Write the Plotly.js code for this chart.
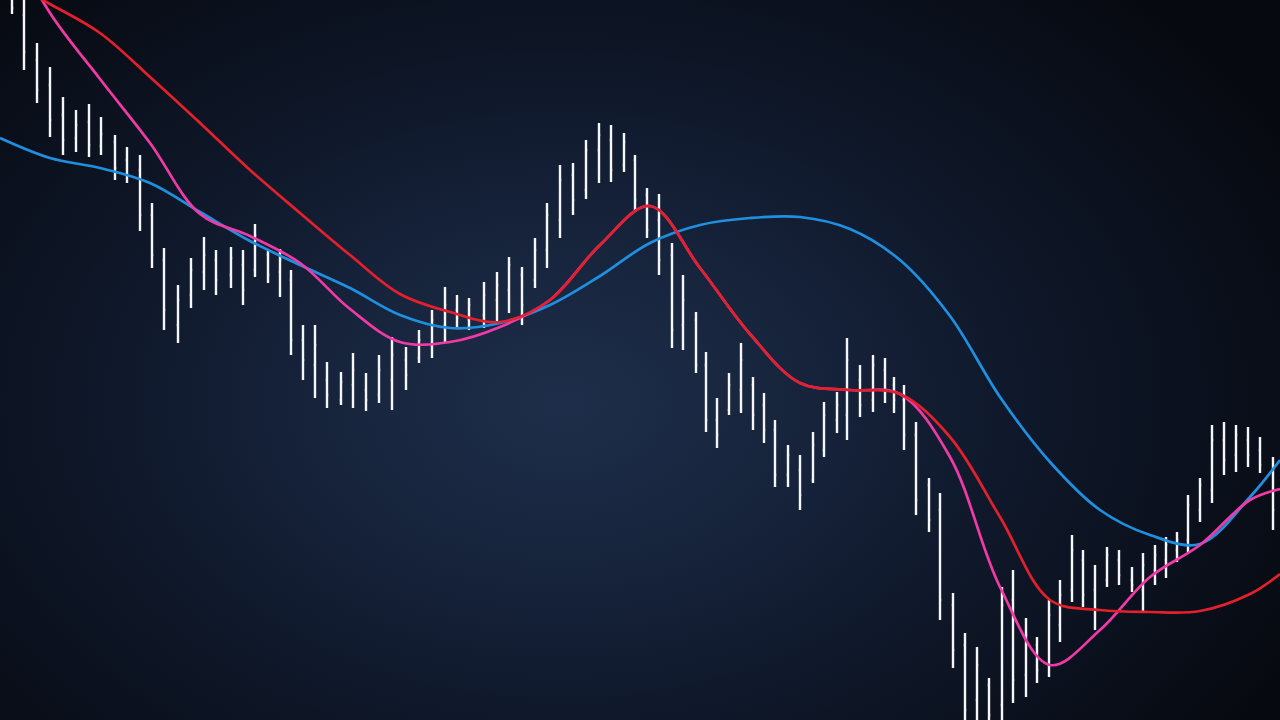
<!DOCTYPE html>
<html>
<head>
<meta charset="utf-8">
<script src="https://cdn.plot.ly/plotly-3.0.1.min.js"></script>
<style>
  html, body { margin: 0; padding: 0; width: 1280px; height: 720px; overflow: hidden; }
  body { background: radial-gradient(ellipse 65% 80% at 44% 56%, #1e2e4a 0%, #16233b 30%, #0e1627 60%, #06090f 100%); }
  #chart { width: 1280px; height: 720px; }
</style>
</head>
<body>
<div id="chart"></div>
<script>
// Bar time stamps (arbitrary session units)
const times = [1.2, 2.4, 3.7, 5.0, 6.3, 7.6, 8.9, 10.1, 11.5, 12.7, 14.0, 15.2, 16.4, 17.8, 19.1, 20.4, 21.6, 23.1, 24.3, 25.5, 26.8, 28.0, 29.1, 30.3, 31.5, 32.7, 34.1, 35.3, 36.6, 37.9, 39.2, 40.6, 41.9, 43.2, 44.5, 45.7, 46.9, 48.4, 49.7, 50.9, 52.2, 53.5, 54.7, 56.0, 57.3, 58.6, 59.9, 61.1, 62.4, 63.5, 64.7, 65.9, 67.2, 68.3, 69.6, 70.6, 71.7, 72.9, 74.1, 75.3, 76.4, 77.5, 78.8, 80.0, 81.3, 82.4, 83.7, 84.7, 86.0, 87.3, 88.5, 89.4, 90.4, 91.6, 92.9, 94.0, 95.3, 96.5, 97.7, 98.9, 100.2, 101.3, 102.6, 103.7, 104.9, 106.0, 107.2, 108.3, 109.5, 110.7, 111.9, 113.2, 114.3, 115.5, 116.6, 117.7, 118.8, 120.0, 121.2, 122.4, 123.6, 124.8, 126.0, 127.3];

const high = [73.5, 73.0, 67.7, 65.3, 62.3, 61.0, 61.6, 60.3, 58.5, 57.3, 56.5, 51.7, 47.2, 43.5, 46.2, 48.3, 47.0, 47.3, 47.0, 49.6, 47.0, 47.1, 45.0, 39.5, 39.5, 35.8, 34.8, 36.7, 34.7, 36.5, 38.3, 37.3, 39.0, 41.0, 43.3, 42.5, 42.2, 43.8, 44.8, 46.3, 45.3, 48.2, 51.7, 55.5, 55.7, 58.0, 59.7, 59.5, 58.7, 56.5, 53.2, 52.6, 47.7, 44.5, 40.8, 36.8, 32.2, 34.7, 37.7, 34.3, 32.7, 30.0, 27.5, 26.5, 28.8, 31.8, 32.8, 38.2, 35.5, 36.5, 36.2, 34.3, 33.5, 29.8, 24.2, 22.7, 12.7, 8.7, 7.3, 4.2, 13.3, 15.0, 10.2, 8.3, 12.0, 14.0, 18.5, 17.0, 15.5, 17.3, 17.0, 15.3, 16.7, 17.5, 18.3, 18.8, 22.5, 24.2, 29.5, 29.8, 29.5, 29.3, 28.3, 26.3];

const low = [70.6, 65.0, 61.7, 58.3, 56.5, 56.8, 56.3, 56.5, 54.0, 53.7, 48.9, 45.2, 39.0, 37.7, 41.2, 43.0, 42.5, 43.2, 41.5, 44.3, 43.7, 42.3, 36.5, 34.0, 32.2, 31.2, 31.5, 31.2, 30.9, 31.7, 31.0, 33.0, 35.7, 36.2, 37.7, 39.3, 39.0, 39.2, 39.7, 40.7, 39.5, 43.2, 45.2, 48.2, 50.5, 52.1, 53.7, 53.8, 54.8, 51.0, 48.2, 44.5, 37.2, 37.0, 34.7, 28.8, 27.2, 30.5, 30.7, 29.0, 27.7, 23.3, 23.3, 21.0, 23.7, 26.3, 28.7, 28.0, 30.3, 30.8, 31.7, 30.7, 27.0, 20.5, 18.8, 10.0, 5.2, -1.0, -1.0, -1.0, -0.5, 1.7, 2.3, 3.7, 4.3, 7.8, 11.8, 11.3, 9.0, 13.3, 13.5, 12.8, 10.8, 13.5, 14.2, 15.8, 16.8, 19.8, 21.7, 24.5, 24.8, 25.3, 24.7, 19.0];

const open = [72.8, 70.5, 66.0, 63.5, 60.5, 58.2, 59.8, 57.4, 57.8, 56.0, 55.0, 50.5, 46.0, 39.5, 42.5, 44.8, 46.0, 44.5, 45.5, 45.0, 46.5, 44.8, 44.0, 38.0, 35.5, 34.0, 32.0, 33.5, 33.0, 32.5, 34.0, 36.0, 36.2, 37.5, 39.5, 41.0, 40.0, 40.5, 42.0, 43.0, 44.5, 44.0, 47.0, 50.0, 54.5, 53.0, 57.0, 58.0, 55.5, 56.0, 52.5, 50.0, 46.5, 39.5, 40.0, 35.5, 30.0, 31.0, 33.0, 33.5, 31.5, 29.0, 24.5, 25.0, 24.0, 27.0, 30.0, 30.5, 34.0, 32.0, 35.0, 33.5, 32.0, 28.5, 23.5, 21.0, 11.5, 7.5, 2.0, 3.5, 1.5, 12.0, 4.5, 7.5, 5.5, 9.5, 13.0, 16.0, 13.0, 14.0, 16.0, 14.0, 13.0, 15.0, 16.0, 17.0, 18.0, 21.0, 23.0, 28.0, 26.5, 28.0, 27.0, 25.0];

const close = [71.2, 66.8, 63.0, 60.0, 58.0, 59.5, 57.5, 58.6, 55.2, 54.5, 50.5, 46.5, 41.0, 42.0, 45.0, 46.5, 44.0, 46.2, 43.0, 48.5, 44.5, 46.0, 38.0, 36.0, 37.5, 32.5, 33.8, 35.0, 32.0, 35.0, 36.5, 34.5, 38.0, 40.0, 41.5, 40.2, 41.5, 42.5, 43.5, 45.5, 41.5, 47.0, 50.5, 54.0, 52.0, 57.0, 58.5, 55.0, 57.8, 52.0, 49.0, 46.0, 39.0, 42.0, 35.5, 30.0, 28.5, 33.5, 36.0, 30.5, 29.0, 24.5, 26.5, 22.5, 27.5, 30.5, 31.5, 36.0, 31.5, 35.5, 33.0, 32.0, 28.5, 22.0, 20.0, 12.0, 7.0, 1.0, 5.5, 0.5, 11.5, 4.0, 8.5, 5.0, 10.5, 12.5, 17.0, 12.5, 11.0, 16.5, 14.5, 13.5, 15.5, 16.5, 17.5, 18.0, 21.5, 23.5, 28.0, 26.0, 28.5, 26.5, 25.5, 21.0];

// Moving averages, sampled along the session
const maTimes = [0, 5, 10, 15, 20, 25, 30, 35, 40, 45, 50, 55, 60, 65, 70, 75, 80, 85, 90, 95, 100, 105, 110, 115, 120, 125, 128];
const maSlow  = [58.2, 56.2, 55.2, 53.7, 50.8, 47.9, 45.5, 43.2, 40.5, 39.2, 39.7, 41.5, 44.4, 47.7, 49.5, 50.2, 50.3, 49.1, 46.0, 40.4, 32.3, 25.8, 21.0, 18.5, 17.6, 22.3, 26.0];
const maMid   = [74.3, 71.6, 68.7, 64.3, 59.7, 55.0, 50.7, 46.5, 42.6, 40.8, 39.8, 42.0, 47.5, 51.4, 45.2, 38.6, 33.7, 33.0, 32.6, 28.3, 20.3, 12.0, 11.0, 10.8, 10.9, 12.6, 14.6];
const maFast  = [79.8, 70.7, 64.1, 57.7, 50.6, 48.4, 45.7, 41.1, 37.8, 37.8, 39.3, 42.0, 47.5, 51.4, 45.2, 38.6, 33.7, 33.0, 32.6, 26.3, 13.3, 5.5, 9.0, 14.3, 17.5, 22.0, 23.1];

const lineStyle = (color) => ({ color: color, width: 2.7, shape: 'spline', smoothing: 1.0 });

const traces = [
  { type: 'scatter', mode: 'lines', x: maTimes, y: maSlow, line: lineStyle('#1f8fe0'), hoverinfo: 'skip' },
  { type: 'scatter', mode: 'lines', x: maTimes, y: maFast, line: lineStyle('#f23aa6'), hoverinfo: 'skip' },
  { type: 'scatter', mode: 'lines', x: maTimes, y: maMid,  line: lineStyle('#e3202c'), hoverinfo: 'skip' },
  {
    type: 'ohlc', x: times, open: open, high: high, low: low, close: close,
    increasing: { line: { color: '#f4f6fa', width: 2.4 } },
    decreasing: { line: { color: '#f4f6fa', width: 2.4 } },
    tickwidth: 0.15, hoverinfo: 'skip'
  }
];

const layout = {
  width: 1280, height: 720,
  margin: { l: 0, r: 0, t: 0, b: 0, pad: 0 },
  paper_bgcolor: 'rgba(0,0,0,0)',
  plot_bgcolor: 'rgba(0,0,0,0)',
  showlegend: false,
  xaxis: { range: [0, 128], visible: false, showgrid: false, zeroline: false, fixedrange: true, rangeslider: { visible: false } },
  yaxis: { range: [0, 72], visible: false, showgrid: false, zeroline: false, fixedrange: true }
};

Plotly.newPlot('chart', traces, layout, { staticPlot: true, displayModeBar: false });
</script>
</body>
</html>
